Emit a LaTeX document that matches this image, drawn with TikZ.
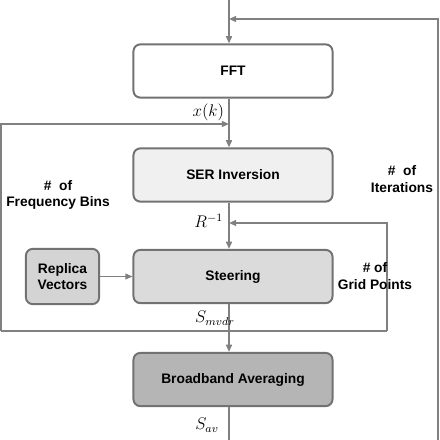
\documentclass[tikz,border=0pt]{standalone}
\usepackage{fontspec}
\setsansfont{Liberation Sans}
\usepackage{amsmath}
\usepackage{tikz}
\usetikzlibrary{positioning,arrows.meta,calc}

\definecolor{linegray}{HTML}{808080}
\definecolor{boxgray}{HTML}{727272}

\begin{document}
\begin{tikzpicture}[
    x=0.025cm, y=-0.025cm,
    font=\fontsize{9.8}{11.5}\selectfont\sffamily\bfseries,
    block/.style={draw=boxgray, line width=1.4pt, rounded corners=0.17cm,
        minimum width=4.975cm, minimum height=1.33cm, align=center, inner sep=0pt},
    flow/.style={draw=linegray, line width=1.1pt, -{Triangle[length=0.18cm, width=0.15cm]}},
    plain/.style={draw=linegray, line width=1.1pt},
    note/.style={align=center, font=\fontsize{9.8}{11.5}\selectfont\sffamily\bfseries},
    sig/.style={font=\fontsize{11.5}{12}\selectfont},
]
\useasboundingbox (0,0) rectangle (440,440);

% Geometry (pixels)
\def\mx{229}    % signal spine
\def\bx{233}    % block centres

% Blocks
\node[block, fill=white]        (fft)   at (\bx, 71)    {FFT};
\node[block, fill=black!6]      (ser)   at (\bx, 175)   {SER Inversion};
\node[block, fill=black!14]     (steer) at (\bx, 276.5) {Steering};
\node[block, fill=black!29]     (bb)    at (\bx, 379.5) {Broadband Averaging};
\node[block, fill=black!17, minimum width=1.83cm, minimum height=1.38cm]
                                (rep)   at (62.5, 276.5) {Replica\\Vectors};

% Spine and loop corners
\coordinate (spine) at (\mx, 0);
\coordinate (out)   at (\mx, 440);
\coordinate (itin)  at (438, 440);
\coordinate (itup)  at (438, 19);
\coordinate (grid)  at (387, 331);
\coordinate (binl)  at (1, 331);

% Main signal path
\draw[flow] (spine) -- (fft.north -| spine);
\draw[flow] (fft.south -| spine) -- (ser.north -| spine);
\draw[flow] (ser.south -| spine) -- (steer.north -| spine);
\draw[flow] (steer.south -| spine) -- (bb.north -| spine);
\draw[plain] (bb.south -| spine) -- (out);
\draw[flow, line width=0.7pt] (rep) -- (steer);

% Loops
\draw[flow] (itin) -- (itup) -- (itup -| spine);
\draw[flow] (grid) |- ($(spine)+(0,223)$);
\draw[plain] (grid) -- (binl);
\draw[flow] (binl) |- ($(spine)+(0,124)$);

% Signal labels
\node[sig, anchor=east] (xk)   at (229, 112) {$x(k)$};
\node[sig, anchor=east] (rinv) at (228, 221) {$R^{-1}$};
\node[sig] (smvdr) at (215, 318) {$S_{mvdr}$};
\node[sig] (sav)   at (207, 425) {$S_{av}$};

% Loop counters
\node[note] (nbins)  at (58, 195)  {\#\ \ of\\Frequency Bins};
\node[note] (niter)  at (402, 179) {\#\ \ of\\Iterations};
\node[note] (ngrid)  at (375, 276) {\# of\\Grid Points};

\end{tikzpicture}
\end{document}
